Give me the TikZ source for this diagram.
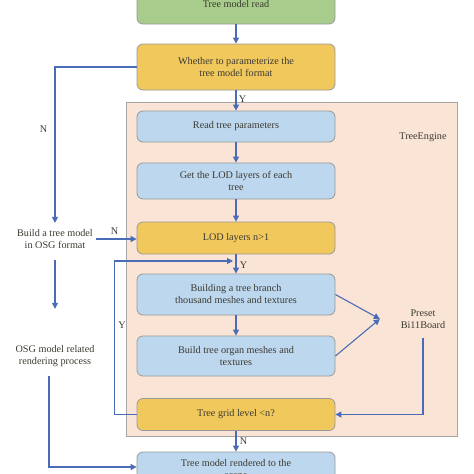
\documentclass[tikz,border=0pt]{standalone}
\usepackage{fontspec}
\setmainfont{Liberation Serif}
\usepackage{xcolor}
\usetikzlibrary{shapes,arrows.meta,positioning,calc}
\definecolor{greenbox}{HTML}{A8CC8C}
\definecolor{yellowbox}{HTML}{F1C85C}
\definecolor{bluebox}{HTML}{BDD7EE}
\definecolor{engine}{HTML}{F9E4D6}
\definecolor{flow}{HTML}{4A6BB5}
\definecolor{ink}{HTML}{3C3B32}

\begin{document}
\begin{tikzpicture}[x=1pt, y=-1pt,
    box/.style={rectangle, draw=black!40, line width=0.8pt, rounded corners=6pt, minimum width=198pt, font=\fontsize{10.2}{12}\selectfont, text=ink, align=center},
    gbox/.style={box, fill=greenbox},
    ybox/.style={box, fill=yellowbox},
    bbox/.style={box, fill=bluebox},
    txt/.style={font=\fontsize{10.2}{12}\selectfont, text=ink, align=center},
    lbl/.style={font=\fontsize{10.2}{12}\selectfont, text=ink},
    arr/.style={draw=flow, line width=1.1pt, -{Triangle[width=6pt,length=6pt]}},
    ln/.style={draw=flow, line width=1.1pt}
]
    \useasboundingbox (0,0) rectangle (474,474);
    \clip (0,0) rectangle (474,474);

    % Engine frame
    \node[draw=black!35, line width=0.9pt, fill=engine, minimum width=331pt, minimum height=334pt, inner sep=0pt] (frame) at (291.5,269) {};
    \node[lbl] (enginename) at (423,137) {TreeEngine};

    % Boxes
    \node[gbox, minimum height=40pt] (read) at (236,4) {Tree model read};
    \node[ybox, minimum height=46pt] (param) at (236,67) {Whether to parameterize the\\tree model format};
    \node[bbox, minimum height=31pt] (readpar) at (236,126.5) {Read tree parameters};
    \node[bbox, minimum height=36pt] (getlod) at (236,181) {Get the LOD layers of each\\tree};
    \node[ybox, minimum height=32pt] (lodn) at (236,238) {LOD layers n>1};
    \node[bbox, minimum height=41pt] (branch) at (236,294.5) {Building a tree branch\\thousand meshes and textures};
    \node[bbox, minimum height=40pt] (organ) at (236,356) {Build tree organ meshes and\\textures};
    \node[ybox, minimum height=32pt] (grid) at (236,414.5) {Tree grid level <n?};
    \node[bbox, minimum height=34pt] (render) at (236,469) {Tree model rendered to the\\scene};

    % Side texts
    \node[txt, minimum width=86pt] (preset) at (423,319) {Preset\\Bi11Board};
    \node[txt] (osgbuild) at (55,239) {Build a tree model\\in OSG format};
    \node[txt] (osgrender) at (55,356) {OSG model related\\rendering process};
    \coordinate (join) at (233,261);

    % Connections
    \draw[arr] (read) -- (param);
    \draw[arr] (param) -- node[lbl, pos=0.45, right=-1pt] {Y} (readpar);
    \draw[arr] (readpar) -- (getlod);
    \draw[arr] (getlod) -- (lodn);
    \draw[arr] (lodn) -- node[lbl, pos=0.55, right=0pt] {Y} (branch);
    \draw[arr] (branch) -- (organ);
    \draw[arr] (grid) -- node[lbl, pos=0.5, right=0pt] {N} (render);
    \draw[arr] (param.west) -| node[lbl, pos=0.7, left=4pt] {N} ([yshift=3pt]osgbuild.north);
    \draw[arr] (osgbuild.east) -- node[lbl, pos=0.45, above=1pt] {N} (osgbuild.east -| lodn.west);
    \draw[arr] (grid.west) -- ++(-22,0) |- node[lbl, pos=0.29, right=0pt] {Y} (join);
    \draw[arr] (branch.east) -- (preset.west);
    \draw[arr] (organ.east) -- (preset.west);
    \draw[arr] ([yshift=-6pt]preset.south) |- (grid.east);
    \draw[arr, shorten <=8pt, shorten >=33pt] (osgbuild.south) -- (osgrender.north);
    \draw[arr, shorten <=6pt] ([xshift=-6pt]osgrender.south) |- ([yshift=2pt]render.west);
\end{tikzpicture}
\end{document}
